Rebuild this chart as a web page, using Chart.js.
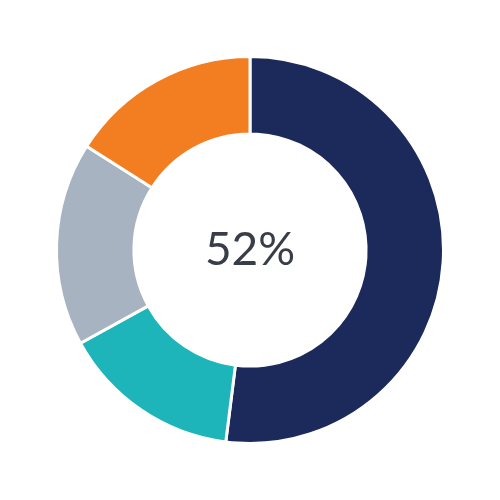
<!DOCTYPE html>
<html>
<head>
<meta charset="utf-8">
<script src="https://cdn.jsdelivr.net/npm/chart.js@4/dist/chart.umd.min.js"></script>
<style>
html,body{margin:0;padding:0;background:#fff;}
#wrap{width:500px;height:500px;}
</style>
</head>
<body>
<div id="wrap"><canvas id="c" width="500" height="500"></canvas></div>
<script>
const categories = ["Segment A", "Segment B", "Segment C", "Segment D"];
const values = [52, 15, 17, 16];
const colors = ["#1b2a5a", "#1db5b9", "#a8b3c2", "#f37e21"];
const centerLabel = "52%";

const centerText = {
  id: 'centerText',
  afterDraw(chart) {
    const arc = chart.getDatasetMeta(0).data[0];
    if (!arc) return;
    const ctx = chart.ctx;
    ctx.save();
    ctx.font = '400 46px Lato, "Open Sans", sans-serif';
    ctx.fillStyle = '#383d47';
    ctx.textAlign = 'center';
    ctx.textBaseline = 'middle';
    ctx.fillText(centerLabel, arc.x, arc.y);
    ctx.restore();
  }
};

new Chart(document.getElementById('c'), {
  type: 'doughnut',
  data: {
    labels: categories,
    datasets: [{
      data: values,
      backgroundColor: colors,
      borderColor: '#ffffff',
      borderWidth: 3
    }]
  },
  options: {
    responsive: false,
    animation: false,
    cutout: '60%',
    layout: { padding: 55 },
    plugins: { legend: { display: false }, tooltip: { enabled: false } }
  },
  plugins: [centerText]
});
</script>
</body>
</html>
